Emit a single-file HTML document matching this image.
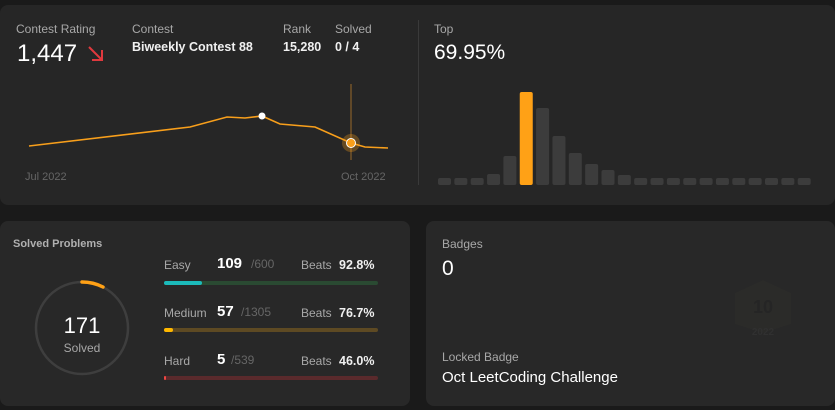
<!DOCTYPE html>
<html><head><style>
body{margin:0;width:835px;height:410px;background:#1a1a1a;font-family:"Liberation Sans",sans-serif;position:relative;overflow:hidden;color:#fff}
.card{position:absolute;background:#282828;border-radius:8px}
.t{position:absolute;white-space:nowrap}
.g{color:#a8a8a8;font-size:12px}
.b{font-weight:bold;font-size:12.5px;color:#f0f0f0}
.bar{position:absolute;left:164px;width:214px;height:4px;border-radius:2px}
</style></head><body>
<div class="card" style="left:0;top:5px;width:835px;height:200px;background:#262626"></div>
<div style="position:absolute;left:418px;top:20px;width:1px;height:165px;background:#3a3a3a"></div>
<div class="t g" style="left:16px;top:22px">Contest Rating</div>
<div class="t" style="left:17px;top:40px;font-size:24px">1,447</div>
<svg style="position:absolute;left:86px;top:44px" width="20" height="20"><path d="M3 3 L16 16 M16 6 V16 H6" stroke="#e0393e" stroke-width="2" fill="none"/></svg>
<div class="t g" style="left:132px;top:22px">Contest</div>
<div class="t b" style="left:132px;top:40px">Biweekly Contest 88</div>
<div class="t g" style="left:283px;top:22px">Rank</div>
<div class="t b" style="left:283px;top:40px">15,280</div>
<div class="t g" style="left:335px;top:22px">Solved</div>
<div class="t b" style="left:335px;top:40px">0 / 4</div>
<svg style="position:absolute;left:0;top:0" width="418" height="200">
<line x1="351" y1="84" x2="351" y2="160" stroke="#9a6a2a" stroke-width="1"/>
<polyline points="29,146 190,127 227,117 245,118 262,116 280,124 315,127 351,143 365,147 388,148" fill="none" stroke="#f89f1b" stroke-width="1.6"/>
<circle cx="262" cy="116" r="3.5" fill="#fff"/>
<circle cx="351" cy="143" r="9" fill="#f89f1b" opacity="0.3"/>
<circle cx="351" cy="143" r="4.5" fill="#f89f1b" stroke="#fff" stroke-width="1"/>
<text x="25" y="180" fill="#666" font-size="11" font-family="Liberation Sans">Jul 2022</text>
<text x="341" y="180" fill="#666" font-size="11" font-family="Liberation Sans">Oct 2022</text>
</svg>
<div class="t g" style="left:434px;top:22px">Top</div>
<div class="t" style="left:434px;top:41px;font-size:21px">69.95%</div>
<svg style="position:absolute;left:0;top:0" width="835" height="200" id="bars"></svg>
<script>
var h=[7,7,7,11,29,93,77,49,32,21,15,10,7,7,7,7,7,7,7,7,7,7,7];var s='';
for(var i=0;i<h.length;i++){var x=438+i*16.35;s+='<rect x="'+x+'" y="'+(185-h[i])+'" width="13" height="'+h[i]+'" rx="2" fill="'+(i==5?'#ffa116':'#3c3c3c')+'"/>';}
document.getElementById('bars').innerHTML=s;
</script>
<div class="card" style="left:0;top:221px;width:410px;height:185px"></div>
<div class="t" style="left:13px;top:238px;font-size:11px;font-weight:bold;color:#b0b0b0">Solved Problems</div>
<svg style="position:absolute;left:0;top:210px" width="160" height="200">
<circle cx="82" cy="118" r="46" fill="none" stroke="#3e3e3e" stroke-width="2.5"/>
<path d="M82 72 A46 46 0 0 1 103 77" fill="none" stroke="#ffa116" stroke-width="3.5" stroke-linecap="round"/>
<text x="82" y="123" text-anchor="middle" fill="#fff" font-size="22" font-family="Liberation Sans">171</text>
<text x="82" y="142" text-anchor="middle" fill="#a8a8a8" font-size="12" font-family="Liberation Sans">Solved</text>
</svg>
<div class="t g" style="left:164px;top:258px">Easy</div>
<div class="t" style="left:217px;top:255px;font-size:15px;font-weight:bold">109</div>
<div class="t" style="left:251px;top:257px;font-size:12px;color:#666">/600</div>
<div class="t g" style="left:301px;top:258px">Beats</div>
<div class="t b" style="left:339px;top:258px">92.8%</div>
<div class="bar" style="top:281px;background:#2a4a32"></div><div class="bar" style="top:281px;width:38px;background:#1cbaba"></div>
<div class="t g" style="left:164px;top:306px">Medium</div>
<div class="t" style="left:217px;top:303px;font-size:15px;font-weight:bold">57</div>
<div class="t" style="left:241px;top:305px;font-size:12px;color:#666">/1305</div>
<div class="t g" style="left:301px;top:306px">Beats</div>
<div class="t b" style="left:339px;top:306px">76.7%</div>
<div class="bar" style="top:328px;background:#5e4a23"></div><div class="bar" style="top:328px;width:9px;background:#ffb800"></div>
<div class="t g" style="left:164px;top:354px">Hard</div>
<div class="t" style="left:217px;top:351px;font-size:15px;font-weight:bold">5</div>
<div class="t" style="left:231px;top:353px;font-size:12px;color:#666">/539</div>
<div class="t g" style="left:301px;top:354px">Beats</div>
<div class="t b" style="left:339px;top:354px">46.0%</div>
<div class="bar" style="top:376px;background:#5a2a2c"></div><div class="bar" style="top:376px;width:2px;background:#ef4743"></div>
<div class="card" style="left:426px;top:221px;width:409px;height:185px"></div>
<div class="t g" style="left:442px;top:237px">Badges</div>
<div class="t" style="left:442px;top:257px;font-size:21px">0</div>
<svg style="position:absolute;left:735px;top:280px" width="60" height="60">
<path d="M28 0 L56 13 V44 L28 53 L0 44 V13 Z" fill="#2b2b29"/>
<text x="28" y="33" text-anchor="middle" fill="#252525" font-size="18" font-weight="bold" font-family="Liberation Sans">10</text>
<text x="28" y="55" text-anchor="middle" fill="#303030" font-size="10" font-weight="bold" font-family="Liberation Sans">2022</text>
</svg>
<div class="t g" style="left:442px;top:350px">Locked Badge</div>
<div class="t" style="left:442px;top:369px;font-size:15px">Oct LeetCoding Challenge</div>
</body></html>
